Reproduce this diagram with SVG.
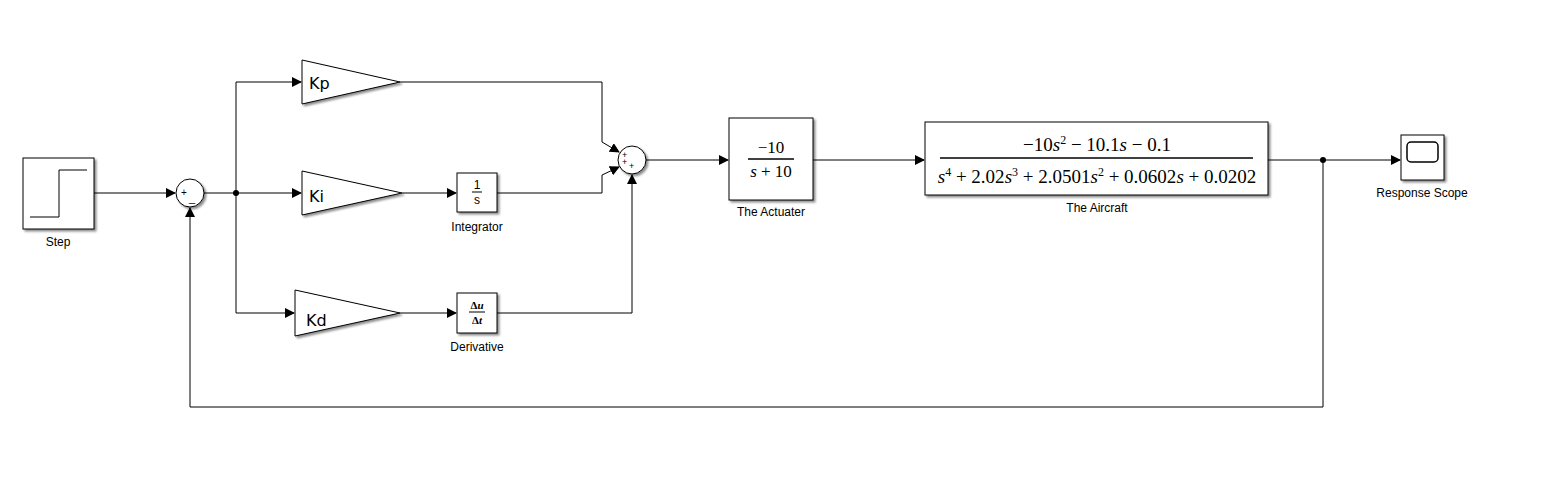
<svg xmlns="http://www.w3.org/2000/svg" width="1545" height="481" viewBox="0 0 1545 481">
<style>
.b{fill:#fff;stroke:#000;stroke-width:1;filter:url(#sh)}
.w{fill:none;stroke:#000;stroke-width:1}
.lbl{font-family:"Liberation Sans",Arial,sans-serif;font-size:12px;text-anchor:middle}
.k{font-family:"DejaVu Sans","Liberation Sans",sans-serif;font-size:16px}
.m{font-family:"Liberation Serif","Times New Roman",serif;text-anchor:middle}
</style>
<defs>
<filter id="sh" x="-10%" y="-10%" width="130%" height="130%"><feDropShadow dx="2" dy="2" stdDeviation="1.2" flood-color="#000" flood-opacity="0.45"/></filter>
<marker id="a" markerWidth="10" markerHeight="10" refX="9" refY="5" orient="auto" markerUnits="userSpaceOnUse"><path d="M0,0 L10,5 L0,10 z" fill="#000"/></marker>
</defs>
<rect width="1545" height="481" fill="#fff"/>
<g id="connectors">
<path class="w" d="M94,193 H175" marker-end="url(#a)"/>
<path class="w" d="M204,193 H236"/>
<path class="w" d="M236,193 V82 H301" marker-end="url(#a)"/>
<path class="w" d="M236,193 H301" marker-end="url(#a)"/>
<path class="w" d="M236,193 V313 H294" marker-end="url(#a)"/>
<circle cx="236" cy="193" r="3"/>
<path class="w" d="M402,193 H456" marker-end="url(#a)"/>
<path class="w" d="M400,313 H456" marker-end="url(#a)"/>
<path class="w" d="M400,82 H602 V142 L619,152" marker-end="url(#a)"/>
<path class="w" d="M497,193 H602 V175 L619,167" marker-end="url(#a)"/>
<path class="w" d="M497,313 H632 V175" marker-end="url(#a)"/>
<path class="w" d="M646,160 H728" marker-end="url(#a)"/>
<path class="w" d="M813,160 H924" marker-end="url(#a)"/>
<path class="w" d="M1268,160 H1400" marker-end="url(#a)"/>
<circle cx="1323" cy="160" r="3"/>
<path class="w" d="M1323,160 V407 H190 V208" marker-end="url(#a)"/>
</g>
<g id="step">
<rect class="b" x="23" y="158" width="71" height="71"/>
<path class="w" d="M30,217 H59 V170 H87" stroke-width="1.3"/>
<text class="lbl" x="58" y="246">Step</text>
</g>
<g id="sum1">
<circle class="b" cx="190" cy="193" r="14"/>
<text x="181" y="196" font-family="Liberation Sans,sans-serif" font-size="10">+</text>
<text x="189" y="202" font-family="Liberation Sans,sans-serif" font-size="11">_</text>
</g>
<g id="kp">
<path class="b" d="M302,60 L400,82 L302,104 z"/>
<text class="k" x="309" y="89">Kp</text>
</g>
<g id="ki">
<path class="b" d="M302,171 L402,193 L302,215 z"/>
<text class="k" x="309" y="202">Ki</text>
</g>
<g id="kd">
<path class="b" d="M295,290 L400,313 L295,336 z"/>
<text class="k" x="306" y="326">Kd</text>
</g>
<g id="integrator">
<rect class="b" x="457" y="173" width="40" height="39"/>
<text x="477" y="189" font-family="Liberation Sans,sans-serif" font-size="12" text-anchor="middle">1</text>
<line x1="472" y1="192" x2="482" y2="192" stroke="#000"/>
<text x="477" y="204" font-family="Liberation Sans,sans-serif" font-size="12" text-anchor="middle">s</text>
<text class="lbl" x="477" y="231">Integrator</text>
</g>
<g id="derivative">
<rect class="b" x="457" y="293" width="40" height="40"/>
<text class="m" x="477" y="309" font-size="11" font-weight="bold">Δ<tspan font-style="italic">u</tspan></text>
<line x1="469" y1="312" x2="485" y2="312" stroke="#000"/>
<text class="m" x="477" y="324" font-size="11" font-weight="bold">Δ<tspan font-style="italic">t</tspan></text>
<text class="lbl" x="477" y="351">Derivative</text>
</g>
<g id="sum2">
<circle class="b" cx="632" cy="160" r="14"/>
<text x="622" y="158" font-family="Liberation Sans,sans-serif" font-size="9">+</text>
<text x="622" y="165" font-family="Liberation Sans,sans-serif" font-size="9">+</text>
<text x="629" y="169" font-family="Liberation Sans,sans-serif" font-size="9">+</text>
</g>
<g id="actuater">
<rect class="b" x="729" y="118" width="84" height="82"/>
<text class="m" x="771" y="153" font-size="17">−10</text>
<line x1="748" y1="159" x2="794" y2="159" stroke="#000" stroke-width="1.3"/>
<text class="m" x="771" y="177" font-size="17"><tspan font-style="italic">s</tspan> + 10</text>
<text class="lbl" x="771" y="216">The Actuater</text>
</g>
<g id="aircraft">
<rect class="b" x="925" y="122" width="343" height="73"/>
<text class="m" x="1097" y="151" font-size="19">−10<tspan font-style="italic">s</tspan><tspan font-size="12" dy="-7">2</tspan><tspan dy="7"> − 10.1</tspan><tspan font-style="italic">s</tspan> − 0.1</text>
<line x1="940" y1="158" x2="1253" y2="158" stroke="#000" stroke-width="1.5"/>
<text class="m" x="1097" y="183" font-size="19"><tspan font-style="italic">s</tspan><tspan font-size="12" dy="-7">4</tspan><tspan dy="7"> + 2.02</tspan><tspan font-style="italic">s</tspan><tspan font-size="12" dy="-7">3</tspan><tspan dy="7"> + 2.0501</tspan><tspan font-style="italic">s</tspan><tspan font-size="12" dy="-7">2</tspan><tspan dy="7"> + 0.0602</tspan><tspan font-style="italic">s</tspan> + 0.0202</text>
<text class="lbl" x="1097" y="212">The Aircraft</text>
</g>
<g id="scope">
<rect class="b" x="1401" y="135" width="43" height="45"/>
<rect x="1407" y="142" width="31" height="20" rx="4" fill="none" stroke="#000" stroke-width="1.5"/>
<text class="lbl" x="1422" y="197">Response Scope</text>
</g>
</svg>
